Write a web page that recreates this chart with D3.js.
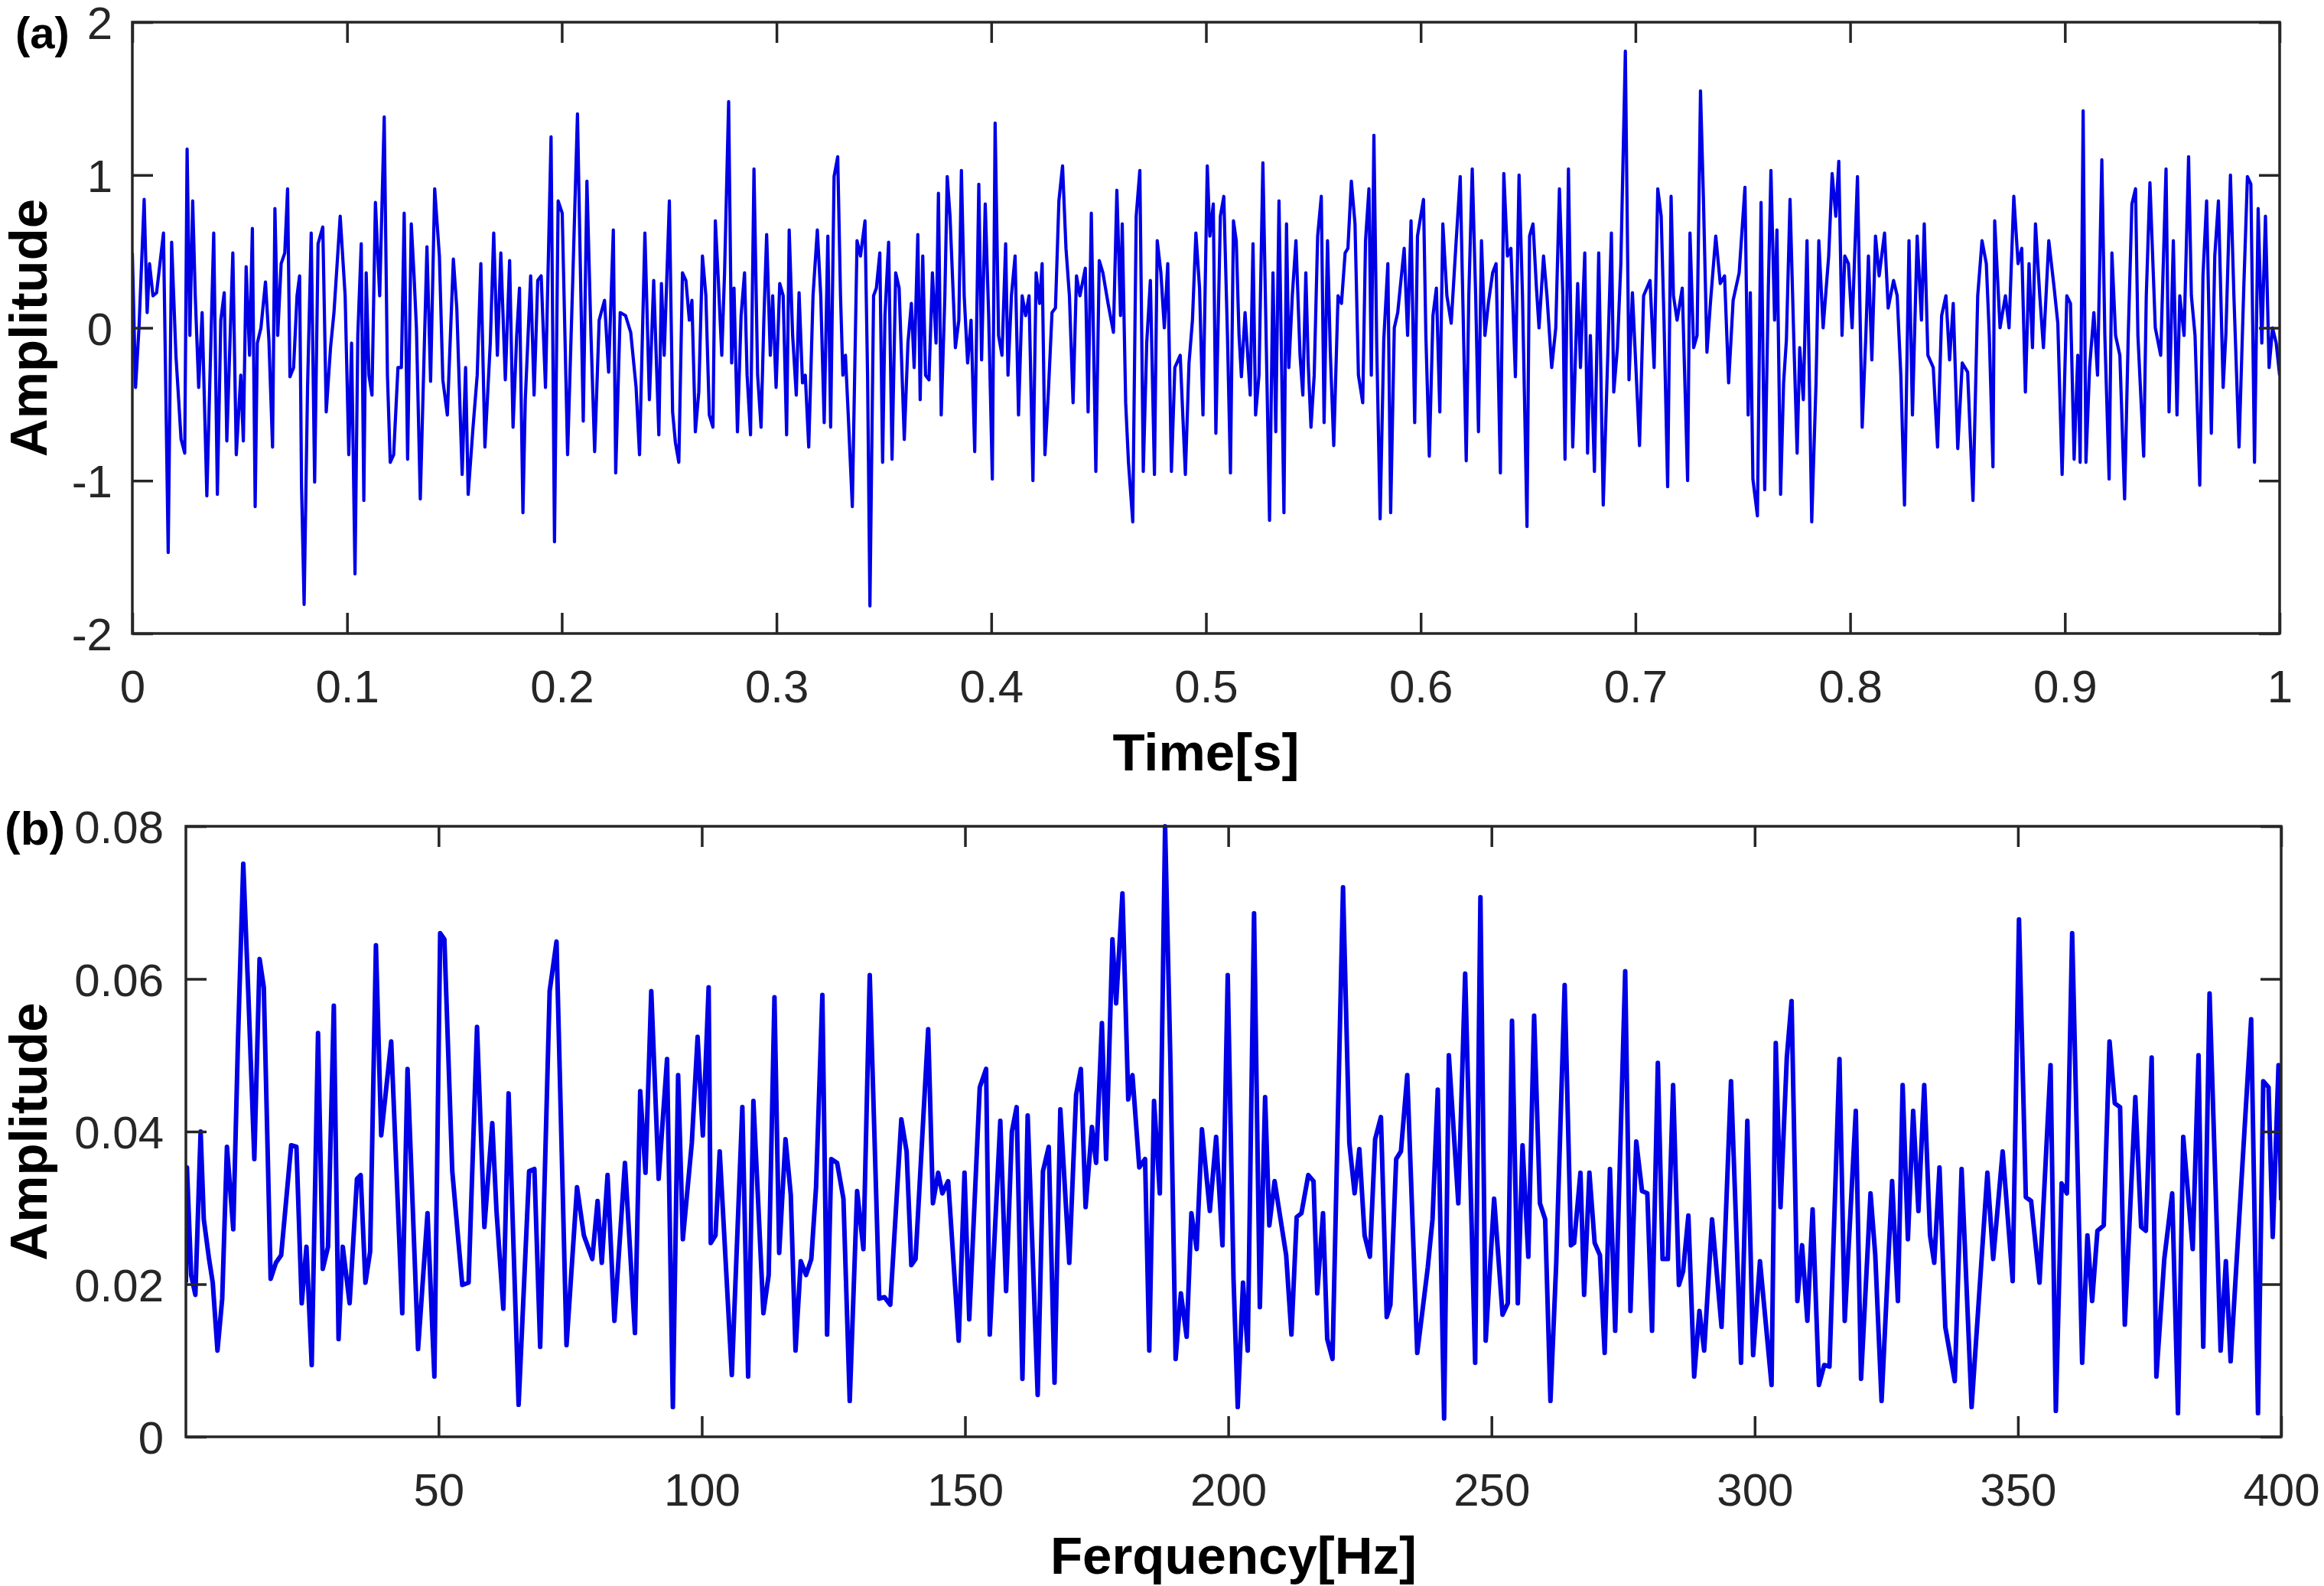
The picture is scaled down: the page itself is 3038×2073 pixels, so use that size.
<!DOCTYPE html>
<html>
<head>
<meta charset="utf-8">
<script src="https://cdn.jsdelivr.net/npm/d3@7"></script>
<style>
	body { margin: 0; background: #fff; }
	svg { display: block; }
</style>
</head>
<body>
<div id="chart"></div>
<script>
// (a) time signal: [time in s, amplitude]
const timeSignal = [
	[0,.49],[.0015,-.39],[.0031,0],[.0055,.84],[.0069,.10],[.0080,.42],[.0096,.21],[.0113,.23],[.0145,.62],[.0167,-1.47],[.0183,.56],[.0203,-.18],[.0227,-.73],[.0244,-.82],[.0255,1.17],[.0268,-.05],[.0281,.83],[.0293,.21],[.0309,-.39],[.0325,.10],[.0347,-1.10],[.0379,.62],[.0396,-1.09],[.0412,.05],[.0428,.23],[.0440,-.74],[.0468,.49],[.0484,-.83],[.0505,-.31],[.0517,-.74],[.0530,.40],[.0546,-.18],[.0559,.65],[.0572,-1.17],[.0582,-.10],[.0599,0],[.0620,.30],[.0636,-.08],[.0653,-.78],[.0664,.78],[.0677,-.05],[.0693,.42],[.0710,.49],[.0723,.91],[.0734,-.32],[.0751,-.26],[.0767,.21],[.0779,.34],[.0788,-1.04],[.0800,-1.81],[.0816,-.39],[.0833,.62],[.0849,-1.01],[.0865,.55],[.0887,.66],[.0903,-.55],[.0923,-.13],[.0939,.10],[.0968,.73],[.0991,.21],
	[.1008,-.83],[.1021,-.10],[.1037,-1.61],[.1050,-.05],[.1066,.55],[.1078,-1.13],[.1089,.36],[.1102,-.31],[.1116,-.44],[.1132,.82],[.1152,.21],[.1173,1.38],[.1188,-.31],[.1201,-.88],[.1217,-.83],[.1237,-.26],[.1253,-.26],[.1266,.75],[.1282,-.86],[.1299,.68],[.1312,.34],[.1323,0],[.1341,-1.12],[.1372,.53],[.1389,-.35],[.1408,.91],[.1430,.47],[.1446,-.34],[.1467,-.57],[.1495,.45],[.1511,.13],[.1536,-.96],[.1552,-.26],[.1564,-1.09],[.1585,-.68],[.1606,-.31],[.1623,.42],[.1642,-.78],[.1667,-.10],[.1683,.62],[.1700,-.18],[.1716,.49],[.1737,-.34],[.1757,.44],[.1773,-.65],[.1790,-.05],[.1803,.26],[.1819,-1.21],[.1830,-.47],[.1855,.34],[.1871,-.44],[.1888,.31],[.1904,.34],[.1924,-.39],[.1950,1.25],[.1966,-1.40],[.1983,.83],
	[.2002,.75],[.2027,-.83],[.2051,.31],[.2073,1.40],[.2100,-.61],[.2117,.96],[.2136,-.05],[.2153,-.81],[.2174,.05],[.2199,.18],[.2218,-.29],[.2240,.64],[.2251,-.95],[.2272,.10],[.2297,.08],[.2321,-.03],[.2346,-.39],[.2362,-.83],[.2387,.62],[.2408,-.47],[.2428,.31],[.2452,-.70],[.2464,.29],[.2477,-.18],[.2501,.83],[.2516,-.55],[.2529,-.75],[.2545,-.88],[.2562,.36],[.2578,.31],[.2594,.05],[.2606,.18],[.2622,-.68],[.2638,-.42],[.2655,.47],[.2671,.21],[.2687,-.57],[.2704,-.65],[.2715,.70],[.2728,.34],[.2745,-.18],[.2758,.36],[.2777,1.48],[.2791,-.23],[.2802,.26],[.2818,-.68],[.2835,.08],[.2851,.36],[.2863,-.31],[.2879,-.70],[.2895,1.04],[.2912,-.31],[.2928,-.65],[.2941,.05],[.2954,.61],[.2971,-.18],[.2982,.21],[.2998,-.39],
	[.3015,.29],[.3031,.21],[.3047,-.70],[.3059,.64],[.3075,-.05],[.3092,-.44],[.3105,.23],[.3121,-.36],[.3134,-.31],[.3150,-.78],[.3170,.21],[.3190,.64],[.3206,.21],[.3222,-.62],[.3239,.60],[.3252,-.65],[.3268,.99],[.3285,1.12],[.3298,.21],[.3309,-.31],[.3321,-.18],[.3334,-.57],[.3353,-1.17],[.3375,.57],[.3391,.47],[.3412,.70],[.3424,-.31],[.3435,-1.82],[.3452,.21],[.3465,.26],[.3481,.49],[.3494,-.88],[.3505,.08],[.3522,.56],[.3538,-.86],[.3555,.36],[.3571,.26],[.3595,-.73],[.3612,-.10],[.3628,.16],[.3641,-.26],[.3658,.61],[.3669,-.47],[.3681,.47],[.3694,-.31],[.3710,-.34],[.3726,.36],[.3743,-.10],[.3754,.88],[.3767,-.57],[.3784,.21],[.3795,.99],[.3808,.73],[.3833,-.13],[.3849,.05],[.3861,1.03],[.3874,.21],[.3890,-.23],[.3906,.05],[.3923,-.81],[.3942,.94],[.3955,-.21],[.3972,.81],[.3988,.08],
	[.4005,-.99],[.4018,1.34],[.4034,-.05],[.4050,-.18],[.4067,.55],[.4078,-.31],[.4094,.21],[.4111,.47],[.4127,-.57],[.4144,.21],[.4160,.08],[.4176,.21],[.4194,-1.00],[.4209,.36],[.4225,.16],[.4237,.42],[.4250,-.83],[.4266,-.42],[.4283,.10],[.4299,.13],[.4315,.83],[.4332,1.06],[.4348,.52],[.4364,.21],[.4381,-.49],[.4397,.34],[.4413,.21],[.4438,.39],[.4451,-.55],[.4466,.75],[.4487,-.94],[.4503,.44],[.4520,.36],[.4544,.16],[.4569,-.03],[.4585,.90],[.4602,.08],[.4610,.68],[.4626,-.49],[.4639,-.88],[.4659,-1.27],[.4675,.73],[.4692,1.03],[.4708,-.94],[.4724,-.10],[.4741,.31],[.4760,-.96],[.4773,.57],[.4790,.36],[.4806,0],[.4822,.42],[.4839,-.94],[.4855,-.26],[.4880,-.18],[.4904,-.96],[.4921,-.23],[.4937,.05],[.4953,.62],[.4970,.26],[.4986,-.57],
	[.5006,1.06],[.5018,.60],[.5034,.81],[.5046,-.69],[.5067,.73],[.5083,.86],[.5100,-.05],[.5114,-.95],[.5128,.70],[.5141,.57],[.5154,-.05],[.5165,-.32],[.5182,.10],[.5206,-.44],[.5219,.55],[.5231,-.57],[.5247,-.31],[.5265,1.08],[.5280,-.05],[.5296,-1.26],[.5312,.36],[.5325,-.68],[.5340,.83],[.5353,-.31],[.5363,-1.21],[.5375,.68],[.5386,-.26],[.5402,.21],[.5419,.57],[.5438,-.18],[.5451,-.44],[.5465,.36],[.5476,-.23],[.5489,-.65],[.5504,-.31],[.5520,.60],[.5537,.86],[.5550,-.62],[.5566,.57],[.5579,-.16],[.5595,-.77],[.5615,.21],[.5631,.16],[.5648,.49],[.5661,.52],[.5677,.96],[.5694,.68],[.5710,-.31],[.5730,-.49],[.5743,.57],[.5759,.91],[.5770,-.31],[.5782,1.26],[.5795,-.10],[.5811,-1.25],[.5828,-.08],[.5847,.42],[.5860,-1.21],[.5877,0],[.5893,.10],[.5910,.34],[.5923,.52],[.5939,-.05],[.5955,.70],[.5972,-.62],[.5985,.60],
	[.6000,.73],[.6013,.84],[.6024,-.05],[.6040,-.84],[.6057,.08],[.6073,.26],[.6089,-.55],[.6103,.68],[.6122,.21],[.6142,.03],[.6163,.52],[.6184,.99],[.6212,-.87],[.6224,.21],[.6240,1.04],[.6256,.21],[.6269,-.68],[.6283,.57],[.6299,-.05],[.6315,.16],[.6335,.36],[.6351,.42],[.6371,-.95],[.6387,1.01],[.6404,.47],[.6420,.52],[.6441,-.32],[.6458,1.00],[.6474,.21],[.6495,-1.30],[.6507,.60],[.6523,.68],[.6539,.26],[.6551,0],[.6572,.47],[.6588,.21],[.6610,-.26],[.6629,0],[.6646,.91],[.6662,.21],[.6672,-.86],[.6688,1.04],[.6708,-.78],[.6731,.29],[.6744,-.26],[.6764,.49],[.6777,-.82],[.6790,-.05],[.6809,-.94],[.6829,.49],[.6850,-1.16],[.6875,0],[.6888,.62],[.6899,-.42],[.6916,-.13],[.6932,.42],[.6953,1.81],[.6970,-.34],[.6986,.23],
	[.7019,-.77],[.7038,.21],[.7068,.31],[.7087,-.26],[.7104,.91],[.7120,.73],[.7133,.05],[.7150,-1.04],[.7166,.86],[.7177,.21],[.7194,.05],[.7218,.26],[.7243,-1.00],[.7254,.62],[.7271,-.13],[.7287,-.05],[.7303,1.55],[.7316,.88],[.7333,-.16],[.7349,.16],[.7374,.60],[.7395,.29],[.7415,.34],[.7434,-.36],[.7455,.18],[.7483,.36],[.7510,.92],[.7525,-.57],[.7535,.23],[.7547,-.99],[.7568,-1.23],[.7585,.82],[.7602,-1.06],[.7619,.26],[.7631,1.03],[.7648,.05],[.7659,.64],[.7676,-1.09],[.7690,-.36],[.7703,-.08],[.7720,.84],[.7737,-.05],[.7753,-.82],[.7765,-.13],[.7782,-.47],[.7799,.57],[.7821,-1.27],[.7841,-.36],[.7854,.57],[.7874,0],[.7900,.47],[.7916,1.01],[.7933,.73],[.7947,1.09],[.7962,-.05],[.7975,.47],[.7992,.42],
	[.8009,0],[.8034,.99],[.8056,-.65],[.8073,-.05],[.8085,.47],[.8101,-.21],[.8118,.60],[.8135,.34],[.8160,.62],[.8177,.13],[.8202,.31],[.8219,.21],[.8236,-.31],[.8253,-1.16],[.8274,.57],[.8290,-.57],[.8312,.60],[.8332,.05],[.8345,.68],[.8362,-.18],[.8387,-.26],[.8407,-.78],[.8426,.08],[.8446,.21],[.8463,-.21],[.8480,.16],[.8501,-.79],[.8522,-.23],[.8547,-.29],[.8572,-1.13],[.8594,.21],[.8614,.57],[.8634,.42],[.8648,-.05],[.8665,-.91],[.8673,.70],[.8698,0],[.8723,.21],[.8740,0],[.8762,.86],[.8782,.42],[.8799,.52],[.8816,-.42],[.8833,.42],[.8849,-.13],[.8863,.68],[.8883,.21],[.8900,-.13],[.8925,.57],[.8950,.26],[.8967,.03],[.8987,-.96],
	[.9009,.21],[.9026,.16],[.9043,-.86],[.9060,-.18],[.9071,-.88],[.9085,1.42],[.9098,-.88],[.9115,-.26],[.9135,.10],[.9152,-.31],[.9172,1.10],[.9186,-.05],[.9206,-.99],[.9219,.49],[.9236,-.05],[.9256,-.18],[.9278,-1.12],[.9295,-.05],[.9312,.81],[.9329,.91],[.9340,-.05],[.9367,-.84],[.9379,.21],[.9396,.95],[.9421,0],[.9446,-.18],[.9471,1.04],[.9485,-.55],[.9505,.57],[.9522,-.57],[.9535,.21],[.9555,-.05],[.9576,1.12],[.9589,.21],[.9606,-.05],[.9628,-1.03],[.9643,.34],[.9660,.83],[.9682,-.69],[.9698,.47],[.9715,.83],[.9737,-.39],[.9750,-.03],[.9771,1.00],[.9787,.21],[.9811,-.78],[.9833,.26],[.9850,.99],[.9866,.94],[.9883,-.88],[.9900,.78],[.9917,-.10],[.9934,.73],[.9951,-.26],[.9967,0],[.9984,-.10],[1,-.31]
];

// (b) spectrum: [frequency in Hz, amplitude]
const spectrum = [
	[2,.0202],[2.2,.0353],[3.0,.0212],[3.8,.0186],[4.8,.040],[5.4,.0285],[6.4,.0233],[7.1,.0202],[8.0,.0113],[8.9,.0181],[9.8,.038],[11.0,.0272],[11.9,.0521],[12.9,.0751],[13.9,.0573],[15.0,.0364],[16.0,.0626],[16.8,.0589],[18.1,.0207],[19.1,.0228],[20.1,.0238],[22.0,.0382],[23.0,.038],[24.0,.0175],[24.9,.0249],[25.9,.0094],[27.1,.0529],[28.0,.022],[29.0,.0249],[30.1,.0565],[31.0,.0128],[31.8,.0249],[33.1,.0175],[34.5,.0338],[35.2,.0343],[36.1,.0202],[37.0,.0243],[38.1,.0644],[39.1,.0395],[41.0,.0518],[43.1,.0162],[44.1,.0482],[46.1,.0115],[47.9,.0293],[49.2,.0079],
	[50.3,.066],[51.1,.0652],[52.6,.0348],[54.5,.0199],[55.7,.0202],[57.3,.0537],[58.7,.0275],[60.2,.0411],[61.0,.0296],[62.3,.0168],[63.3,.045],[65.2,.0042],[67.2,.0348],[68.2,.0351],[69.3,.0118],[71.1,.0584],[72.4,.0649],[74.3,.012],[76.3,.0327],[77.6,.0264],[79.2,.0233],[80.2,.0309],[81.0,.0228],[82.1,.0343],[83.4,.0152],[85.4,.0359],[87.3,.0136],[88.3,.0453],[89.3,.0346],[90.4,.0584],[91.8,.0338],[93.4,.0495],[94.5,.0039],[95.5,.0474],[96.4,.0259],[98.1,.0385],[99.2,.0524],
	[100.2,.0395],[101.3,.0589],[101.7,.0254],[102.6,.0264],[103.4,.0374],[105.7,.0081],[107.7,.0432],[108.8,.0079],[109.8,.044],[111.7,.0162],[112.7,.0212],[113.8,.0576],[114.7,.0241],[115.9,.039],[116.9,.0317],[117.8,.0113],[118.8,.0230],[119.8,.0212],[120.8,.0233],[121.7,.0327],[122.9,.0579],[123.8,.0134],[124.6,.0364],[125.7,.0359],[126.9,.0312],[128.1,.0047],[129.5,.0322],[130.7,.0246],[131.9,.0605],[133.7,.0181],[134.7,.0183],[135.8,.0173],[137.9,.0416],[138.9,.0374],[139.8,.0225],[140.6,.0233],[143.0,.0534],[143.9,.0306],[144.9,.0346],[145.7,.0319],[146.8,.0335],[148.8,.0126],[149.9,.0346],
	[150.8,.0154],[152.8,.0458],[154.0,.0482],[154.7,.0134],[156.7,.0414],[157.8,.0191],[158.9,.040],[159.8,.0432],[160.9,.0076],[161.9,.0421],[163.8,.0055],[164.8,.0348],[165.9,.038],[167.0,.0071],[168.1,.0429],[169.8,.0228],[171.1,.0448],[172.0,.0482],[172.9,.0301],[174.1,.0406],[174.9,.0359],[176.0,.0542],[176.8,.0364],[178.0,.0652],[178.7,.0568],[179.9,.0712],[181.0,.0442],[181.8,.0474],[183.1,.0353],[184.2,.0364],[185.0,.0113],[185.9,.044],[187.0,.0319],[188.0,.080],[189.0,.0495],[190.0,.0102],[191.0,.0188],[192.1,.0131],[193.0,.0293],[194.0,.0246],[195.0,.0403],[196.5,.0296],[197.7,.0393],[198.9,.0251],[199.9,.0605],
	[201.0,.0207],[201.8,.0039],[202.8,.0202],[203.7,.0113],[204.9,.0686],[206.0,.017],[207.0,.0445],[207.8,.0277],[208.8,.0335],[211.0,.0238],[212.0,.0134],[213.0,.0288],[213.9,.0293],[215.2,.0343],[216.2,.0335],[216.9,.0188],[218.0,.0293],[218.8,.0128],[219.8,.0102],[221.8,.072],[223.0,.0385],[224.0,.0319],[224.9,.0377],[225.9,.0264],[226.9,.0236],[227.9,.039],[229.0,.0419],[230.1,.0157],[230.8,.0173],[231.9,.0364],[232.8,.0374],[234.0,.0474],[235.9,.011],[237.9,.0222],[238.8,.0285],[239.8,.0455],[241.0,.0024],[241.9,.050],[243.7,.0306],[245.0,.0607],[246.9,.0097],[247.9,.0707],[248.9,.0126],
	[250.5,.0312],[252.1,.016],[253.1,.0175],[253.9,.0545],[255.0,.0175],[255.9,.0382],[257.0,.0236],[258.1,.0552],[259.2,.0306],[260.2,.0285],[261.2,.0047],[262.3,.0228],[263.9,.0592],[265.1,.0251],[265.7,.0254],[266.9,.0346],[267.6,.0186],[268.6,.0346],[269.6,.0254],[270.6,.0238],[271.5,.011],[272.5,.0351],[273.5,.0139],[275.4,.061],[276.4,.0165],[277.5,.0387],[278.6,.0322],[279.6,.0319],[280.5,.0139],[281.6,.049],[282.5,.0233],[283.5,.0233],[284.5,.0461],[285.6,.0199],[286.4,.0217],[287.4,.0290],[288.5,.0079],[289.5,.0165],[290.4,.0113],[291.9,.0285],[293.7,.0144],[295.5,.0466],[297.4,.0097],[298.6,.0414],[299.7,.0107],
	[301.0,.023],[303.2,.0068],[304.0,.0516],[304.9,.0301],[306.1,.0497],[307.0,.0571],[308.1,.0178],[309.0,.0251],[310.0,.0152],[311.0,.0298],[312.2,.0068],[313.2,.0094],[314.2,.0092],[316.1,.0495],[317.1,.0152],[319.2,.0427],[320.2,.0076],[322.0,.0319],[322.9,.0238],[324.1,.0047],[326.1,.0335],[327.2,.0178],[328.1,.0461],[329.1,.0259],[330.1,.0427],[331.1,.0296],[332.2,.0461],[333.3,.0264],[334.1,.0228],[335.1,.0353],[336.2,.0144],[338.0,.0073],[339.3,.0351],[341.2,.0039],[344.2,.0346],[345.3,.0233],[347.1,.0374],[349.0,.0204],
	[350.2,.0678],[351.5,.0314],[352.5,.0309],[354.1,.0202],[356.2,.0487],[357.2,.0034],[358.3,.0332],[359.3,.0319],[360.3,.066],[362.2,.0097],[363.2,.0264],[364.1,.0178],[365.1,.027],[366.3,.0277],[367.4,.0518],[368.4,.0437],[369.4,.0432],[370.3,.0147],[372.3,.0445],[373.4,.0275],[374.3,.027],[375.4,.0497],[376.3,.0079],[377.8,.0233],[379.3,.0319],[380.4,.0031],[381.4,.0393],[383.2,.0246],[384.3,.050],[385.2,.0118],[386.4,.0581],[388.5,.0113],[389.5,.023],[390.4,.0099],[394.3,.0547],[395.6,.0031],[396.6,.0466],[397.6,.0458],[398.4,.0262],[399.5,.0487],[400,.031]
];

// tick values
const timeTicks = [0, 0.1, 0.2, 0.3, 0.4, 0.5, 0.6, 0.7, 0.8, 0.9, 1];
const ampTicksA = [-2, -1, 0, 1, 2];
const freqTicks = [50, 100, 150, 200, 250, 300, 350, 400];
const ampTicksB = [0, 0.02, 0.04, 0.06, 0.08];

const width = 3038, height = 2073;
const font = '"Liberation Sans", Arial, Helvetica, sans-serif';
const axisColor = '#262626';
const lineColor = '#0000e6';
const tickLen = 27;

const svg = d3.select('#chart')
	.append('svg')
	.attr('width', width)
	.attr('height', height)
	.style('background', '#fff');

// box positions of the two panels
const boxA = { left: 173, right: 2980, top: 29, bottom: 828 };
const boxB = { left: 243, right: 2982, top: 1080, bottom: 1878 };

const xA = d3.scaleLinear().domain([0, 1]).range([boxA.left, boxA.right]);
const yA = d3.scaleLinear().domain([-2, 2]).range([boxA.bottom, boxA.top]);
const xB = d3.scaleLinear().domain([2, 400]).range([boxB.left, boxB.right]);
const yB = d3.scaleLinear().domain([0, 0.08]).range([boxB.bottom, boxB.top]);

function drawPanel(box, x, y, xTicks, yTicks, yFmt, yPad, data, lineWidth, clipId) {
	const g = svg.append('g');

	g.append('defs')
		.append('clipPath')
		.attr('id', clipId)
		.append('rect')
		.attr('x', box.left)
		.attr('y', box.top - 3)
		.attr('width', box.right - box.left)
		.attr('height', box.bottom - box.top + 6);

	const line = d3.line()
		.x(function(d) { return x(d[0]); })
		.y(function(d) { return y(d[1]); });

	g.append('path')
		.datum(data)
		.attr('clip-path', 'url(#' + clipId + ')')
		.attr('d', line)
		.attr('fill', 'none')
		.attr('stroke', lineColor)
		.attr('stroke-width', lineWidth)
		.attr('stroke-linejoin', 'round');

	// bottom axis with labels, ticks pointing inward
	const bottom = g.append('g')
		.attr('transform', 'translate(0,' + box.bottom + ')')
		.call(d3.axisBottom(x).tickValues(xTicks).tickSize(-tickLen).tickSizeOuter(0).tickPadding(47).tickFormat(d3.format('')));

	// top axis, ticks only
	const top = g.append('g')
		.attr('transform', 'translate(0,' + box.top + ')')
		.call(d3.axisTop(x).tickValues(xTicks).tickSize(-tickLen).tickSizeOuter(0).tickFormat(''));

	// left axis with labels
	const left = g.append('g')
		.attr('transform', 'translate(' + box.left + ',0)')
		.call(d3.axisLeft(y).tickValues(yTicks).tickSize(-tickLen).tickSizeOuter(0).tickPadding(yPad).tickFormat(yFmt));

	// right axis, ticks only
	const right = g.append('g')
		.attr('transform', 'translate(' + box.right + ',0)')
		.call(d3.axisRight(y).tickValues(yTicks).tickSize(-tickLen).tickSizeOuter(0).tickFormat(''));

	[bottom, top, left, right].forEach(function(a) {
		a.select('.domain').remove();
		a.selectAll('line').attr('stroke', axisColor).attr('stroke-width', 3.5);
		a.selectAll('text')
			.attr('fill', axisColor)
			.style('font-family', font)
			.style('font-size', '60px');
	});
	left.selectAll('text').attr('dy', '0.36em');

	g.append('rect')
		.attr('x', box.left)
		.attr('y', box.top)
		.attr('width', box.right - box.left)
		.attr('height', box.bottom - box.top)
		.attr('fill', 'none')
		.attr('stroke', axisColor)
		.attr('stroke-width', 3.5);
}

drawPanel(boxA, xA, yA, timeTicks, ampTicksA, function(d) { return String(d); }, 26, timeSignal, 4.2, 'clip-a');
drawPanel(boxB, xB, yB, freqTicks, ampTicksB, function(d) { return d === 0 ? '0' : d.toFixed(2); }, 29, spectrum, 6, 'clip-b');

// labels
function label(text, x, y, size, anchor, rotate) {
	const t = svg.append('text')
		.text(text)
		.attr('font-family', font)
		.attr('font-weight', 'bold')
		.attr('font-size', size + 'px')
		.attr('fill', '#000')
		.attr('text-anchor', anchor);
	if (rotate) {
		t.attr('transform', 'translate(' + x + ',' + y + ') rotate(-90)');
	} else {
		t.attr('x', x).attr('y', y);
	}
	return t;
}

label('(a)', 20, 63, 58, 'start');
label('(b)', 6, 1104, 62, 'start');
label('Amplitude', 61, (boxA.top + boxA.bottom) / 2, 69, 'middle', true);
label('Amplitude', 61, (boxB.top + boxB.bottom) / 2, 69, 'middle', true);
label('Time[s]', (boxA.left + boxA.right) / 2, 1007, 69, 'middle');
label('Ferquency[Hz]', (boxB.left + boxB.right) / 2, 2057, 69, 'middle');
</script>
</body>
</html>
